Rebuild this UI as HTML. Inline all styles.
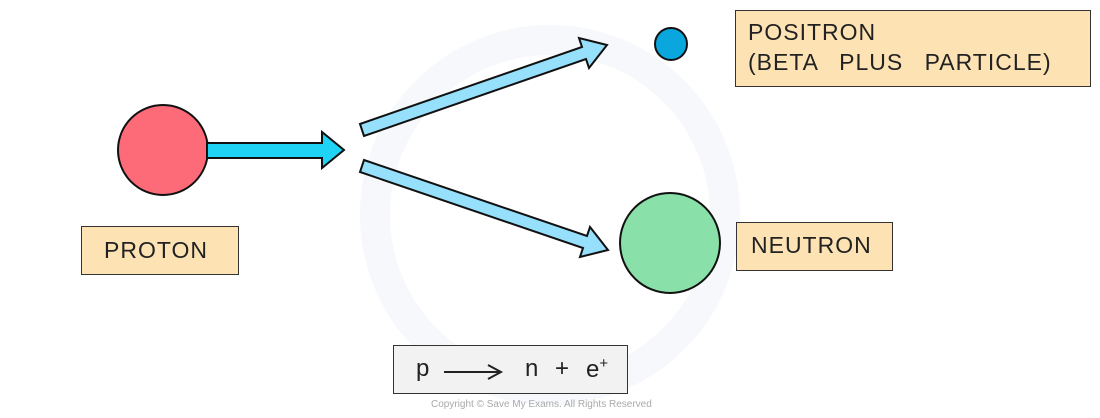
<!DOCTYPE html>
<html><head><style>
body{margin:0;width:1100px;height:418px;background:#fff;overflow:hidden;font-family:"Liberation Sans",sans-serif;}
.box{position:absolute;background:#fde3b4;border:1.5px solid #333;box-sizing:border-box;font-size:23px;color:#222;letter-spacing:1px;}
</style></head><body>
<svg width="1100" height="418" style="position:absolute;left:0;top:0">
<circle cx="550" cy="215" r="175" fill="none" stroke="#f6f8fb" stroke-width="30"/>
<circle cx="163" cy="150" r="45" fill="#fe6b78" stroke="#111" stroke-width="2"/>
<polygon points="207,143 322,143 322,132 344,150 322,168 322,158 207,158" fill="#1fd3f5" stroke="#111" stroke-width="2"/>
<polygon points="360,124 582,47 579,38 607,45 589,68 586,59 364,136" fill="#96e0fb" stroke="#111" stroke-width="2"/>
<polygon points="364,160 587,236 590,227 608,250 580,257 583,248 360,172" fill="#96e0fb" stroke="#111" stroke-width="2"/>
<circle cx="671" cy="44" r="16" fill="#0aa6de" stroke="#111" stroke-width="2"/>
<circle cx="670" cy="243" r="50" fill="#89e0a8" stroke="#111" stroke-width="2"/>
</svg>
<div class="box" style="left:735px;top:10px;width:356px;height:77px;padding:6px 12px;line-height:30px;word-spacing:14px">POSITRON<br>(BETA PLUS PARTICLE)</div>
<div class="box" style="left:736px;top:222px;width:157px;height:49px;padding:9px 14px">NEUTRON</div>
<div class="box" style="left:81px;top:226px;width:158px;height:49px;padding:10px 22px">PROTON</div>
<div style="position:absolute;left:393px;top:345px;width:235px;height:49px;background:#f2f2f2;border:1.5px solid #333;box-sizing:border-box;font-size:24px;color:#222;">
<span style="position:absolute;left:22px;top:9px">p</span>
<svg style="position:absolute;left:50px;top:18px" width="60" height="16"><line x1="0" y1="8" x2="56" y2="8" stroke="#222" stroke-width="2"/><polyline points="44,1 57,8 44,15" fill="none" stroke="#222" stroke-width="2"/></svg>
<span style="position:absolute;left:131px;top:9px">n</span>
<span style="position:absolute;left:161px;top:9px">+</span>
<span style="position:absolute;left:192px;top:9px">e<sup style="font-size:15px">+</sup></span>
</div>
<div style="position:absolute;left:431px;top:399px;font-size:10px;color:#aaa">Copyright © Save My Exams. All Rights Reserved</div>
</body></html>
